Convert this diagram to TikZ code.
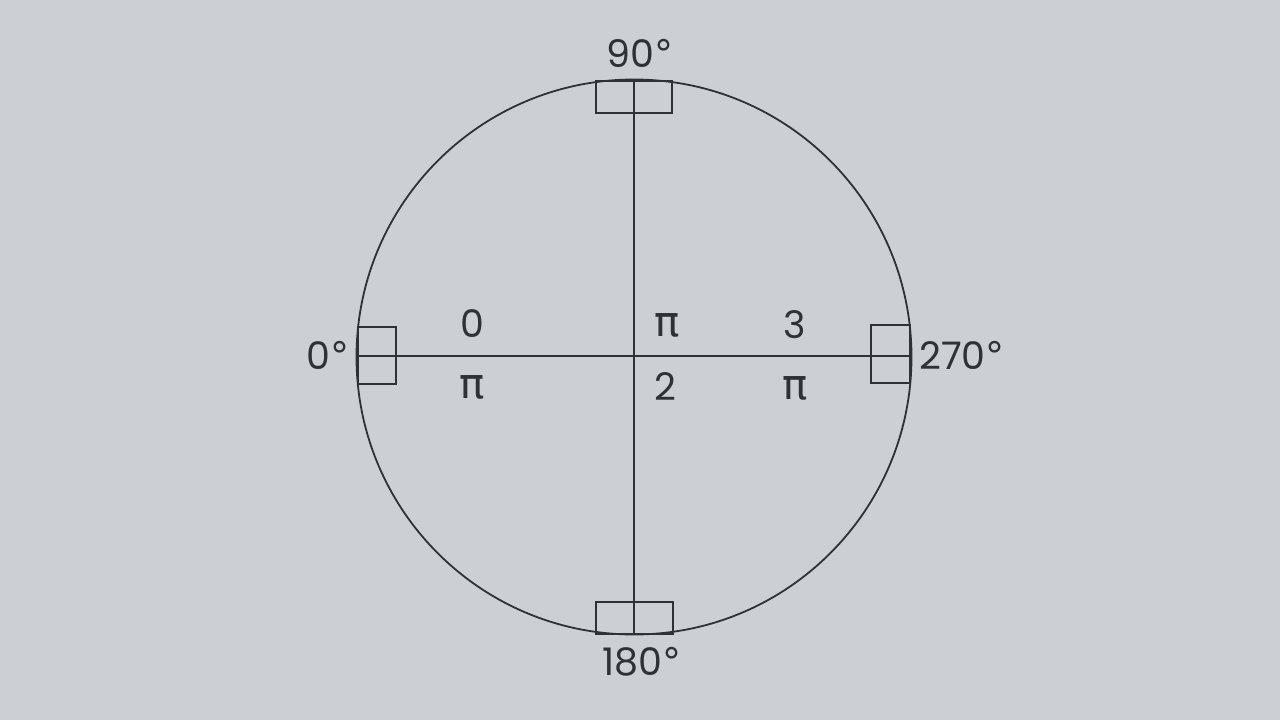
\documentclass[tikz,border=0pt]{standalone}
\usepackage{fontspec}
\setmainfont{Poppins}
\newfontfamily\greekfont{DejaVu Sans}
\newcommand{\degsign}{{\greekfont°}}
\definecolor{bg}{HTML}{CCD0D5}
\definecolor{ink}{HTML}{2E3236}
\begin{document}
\begin{tikzpicture}[x=1pt, y=-1pt, line width=1.8pt, draw=ink,
  every node/.style={inner sep=0pt, text=ink, font=\fontsize{38}{44}\selectfont}]
  \fill[bg] (0,0) rectangle (1280,720);
  \useasboundingbox (0,0) rectangle (1280,720);
  \coordinate (O) at (634,357);
  \coordinate (W) at (357,356);
  \coordinate (E) at (911,356);
  \coordinate (N) at (634,79);
  \coordinate (S) at (634,635);
  \draw[ink] (O) circle[radius=277.5pt];
  \draw[ink] (596,81) rectangle (672,113);
  \draw[ink] (596,602) rectangle (673,634);
  \draw[ink] (358,327) rectangle (396,384);
  \draw[ink] (871,325) rectangle (910,383);
  \foreach \u/\v in {W/E,N/S}
    \draw[ink] (\u) -- (\v);
  \node (90) at (640,53) {90\degsign};
  \node (180) at (642,662) {180\degsign};
  \node (0) at (328,355) {0\degsign};
  \node (270) at (962,355) {270\degsign};
  \node (a1) at (472,324) {0};
  \node (a2) at (472,387) {\greekfont\fontsize{42}{48}\selectfont π};
  \node (b1) at (667,325) {\greekfont\fontsize{42}{48}\selectfont π};
  \node (b2) at (665,387) {2};
  \node (c1) at (795,325) {3};
  \node (c2) at (795,388) {\greekfont\fontsize{42}{48}\selectfont π};
\end{tikzpicture}
\end{document}
